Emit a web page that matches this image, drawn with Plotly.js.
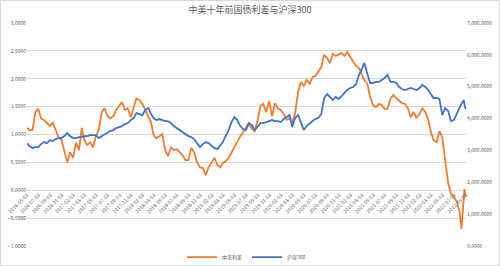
<!DOCTYPE html>
<html>
<head>
<meta charset="utf-8">
<script src="https://cdn.plot.ly/plotly-3.0.1.min.js"></script>
<style>
html,body{margin:0;padding:0;background:#fff;}
#chart{width:500px;height:266px;outline:1px solid #d9d9d9;outline-offset:-1px;}
</style>
</head>
<body>
<div id="chart"></div>
<script>
const dates = [
'2016-05-04','2016-05-16','2016-06-01','2016-06-16','2016-07-01','2016-07-16','2016-08-01','2016-08-16','2016-09-01','2016-09-16','2016-10-01','2016-10-16','2016-11-01','2016-11-16','2016-12-01','2016-12-16',
'2017-01-01','2017-01-16','2017-02-01','2017-02-16','2017-03-01','2017-03-16','2017-04-01','2017-04-16','2017-05-01','2017-05-16','2017-06-01','2017-06-16','2017-07-01','2017-07-16','2017-08-01','2017-08-16','2017-09-01','2017-09-16','2017-10-01','2017-10-16','2017-11-01','2017-11-16','2017-12-01','2017-12-16',
'2018-01-01','2018-01-16','2018-02-01','2018-02-16','2018-03-01','2018-03-16','2018-04-01','2018-04-16','2018-05-01','2018-05-16','2018-06-01','2018-06-16','2018-07-01','2018-07-16','2018-08-01','2018-08-16','2018-09-01','2018-09-16','2018-10-01','2018-10-16','2018-11-01','2018-11-16','2018-12-01','2018-12-16',
'2019-01-01','2019-01-16','2019-02-01','2019-02-16','2019-03-01','2019-03-16','2019-04-01','2019-04-16','2019-05-01','2019-05-16','2019-06-01','2019-06-16','2019-07-01','2019-07-16','2019-08-01','2019-08-16','2019-09-01','2019-09-16','2019-10-01','2019-10-16','2019-11-01','2019-11-16','2019-12-01','2019-12-16',
'2020-01-01','2020-01-16','2020-02-01','2020-02-16','2020-03-01','2020-03-16','2020-04-01','2020-04-16','2020-05-01','2020-05-16','2020-06-01','2020-06-16','2020-07-01','2020-07-16','2020-08-01','2020-08-16','2020-09-01','2020-09-16','2020-10-01','2020-10-16','2020-11-01','2020-11-16','2020-12-01','2020-12-16',
'2021-01-01','2021-01-16','2021-02-01','2021-02-16','2021-03-01','2021-03-16','2021-04-01','2021-04-16','2021-05-01','2021-05-16','2021-06-01','2021-06-16','2021-07-01','2021-07-16','2021-08-01','2021-08-16','2021-09-01','2021-09-16','2021-10-01','2021-10-16','2021-11-01','2021-11-16','2021-12-01','2021-12-16',
'2022-01-01','2022-01-16','2022-02-01','2022-02-16','2022-03-01','2022-03-16','2022-04-01','2022-04-16','2022-05-01','2022-05-16','2022-06-01','2022-06-16','2022-07-01','2022-07-16','2022-08-01','2022-08-10','2022-08-16','2022-08-22','2022-08-26','2022-09-01'
];

const spread = [
1.12,1.08,1.08,1.40,1.46,1.29,1.26,1.20,1.15,1.22,1.10,0.95,0.90,0.72,0.50,0.68,
0.58,0.85,0.72,1.12,0.90,0.81,0.86,0.77,0.97,1.08,1.40,1.47,1.33,1.29,1.33,1.44,1.51,1.58,1.44,1.47,1.31,1.47,1.65,1.62,
1.55,1.44,1.33,1.22,0.99,0.93,0.97,1.01,0.72,0.61,0.77,0.72,0.74,0.68,0.63,0.54,0.54,0.76,0.68,0.50,0.41,0.40,0.27,0.41,
0.49,0.58,0.45,0.41,0.49,0.52,0.58,0.68,0.76,0.88,0.97,1.04,1.13,1.20,1.10,1.06,1.26,1.51,1.55,1.40,1.60,1.33,1.56,1.47,
1.44,1.37,1.26,1.29,1.20,1.38,1.76,1.94,1.87,1.98,1.91,2.03,2.05,2.12,2.21,2.43,2.37,2.28,2.45,2.41,2.43,2.46,2.41,2.48,
2.39,2.30,2.23,2.19,2.10,1.98,1.91,1.67,1.53,1.49,1.55,1.53,1.46,1.46,1.64,1.71,1.65,1.60,1.56,1.55,1.47,1.31,1.40,1.29,
1.37,1.47,1.40,1.26,1.06,0.90,0.86,1.06,0.95,0.54,0.13,-0.07,-0.12,-0.20,-0.40,-0.70,-0.40,-0.05,0.02,-0.12
];

const csi300 = [
3230,3135,3073,3104,3104,3198,3261,3230,3324,3293,3356,3387,3387,3450,3544,3450,
3387,3387,3419,3419,3450,3450,3481,3481,3481,3387,3450,3513,3544,3607,3639,3702,3733,3764,3827,3859,3953,4016,4173,4142,
4111,4268,4331,4142,4016,3953,3985,3953,3922,3922,3859,3764,3702,3639,3576,3513,3450,3419,3356,3230,3104,3198,3261,3230,
3135,3073,3041,3167,3261,3450,3639,3890,4048,3953,3764,3670,3639,3859,3796,3639,3764,3859,3859,3890,3922,3953,3922,3922,
3890,3985,4048,4111,3733,4016,4111,3890,3639,3764,3859,3922,3985,4016,4142,4645,4771,4677,4582,4677,4614,4708,4802,4897,
4960,4991,5086,5369,5526,5746,5400,5117,5117,5149,5149,5212,5275,5369,5149,5149,5117,4991,4929,4897,4929,4960,4929,4897,
4960,5054,4991,4897,4771,4645,4645,4614,4111,4331,4236,3922,3953,4173,4362,4460,4519,4582,4456,4299
];

const tickDates = [
'2016-05-03','2016-07-03','2016-09-03','2016-11-03','2017-01-03','2017-03-03','2017-05-03','2017-07-03','2017-09-03','2017-11-03',
'2018-01-03','2018-03-03','2018-05-03','2018-07-03','2018-09-03','2018-11-03','2019-01-03','2019-03-03','2019-05-03','2019-07-03',
'2019-09-03','2019-11-03','2020-01-03','2020-03-03','2020-05-03','2020-07-03','2020-09-03','2020-11-03','2021-01-03','2021-03-03',
'2021-05-03','2021-07-03','2021-09-03','2021-11-03','2022-01-03','2022-03-03','2022-05-03','2022-07-03','2022-09-03'
];

const seriesNames = ['中美利差','沪深300'];
const chartTitle = '中美十年前国债利差与沪深300';

const FONT = '"Noto Sans CJK SC", "Liberation Sans", sans-serif';
const GRAY = '#595959';

const traces = [
  {x: dates, y: spread, name: seriesNames[0], type: 'scatter', mode: 'lines',
   line: {color: '#ED7D31', width: 1.8}, yaxis: 'y'},
  {x: dates, y: csi300, name: seriesNames[1], type: 'scatter', mode: 'lines',
   line: {color: '#4472C4', width: 1.8}, yaxis: 'y2'}
];

const layout = {
  width: 500, height: 266,
  margin: {l: 27, r: 34, t: 23, b: 20, autoexpand: false},
  paper_bgcolor: 'rgba(0,0,0,0)', plot_bgcolor: '#fff',
  font: {family: FONT, color: GRAY, size: 5},
  title: {text: chartTitle, font: {family: FONT, size: 9, color: GRAY},
          x: 0.5, xanchor: 'center', y: 0.962, yref: 'container', yanchor: 'middle'},
  showlegend: true,
  legend: {orientation: 'h', x: 0.5, xanchor: 'center', y: -0.05, yanchor: 'middle',
           font: {size: 5, color: GRAY}, bgcolor: 'rgba(0,0,0,0)', itemwidth: 30, tracegroupgap: 0},
  xaxis: {type: 'date', range: ['2016-05-03', '2022-09-03'],
          tickvals: tickDates, ticktext: tickDates, tickangle: -45,
          anchor: 'free', position: 0.25, showgrid: false, zeroline: false,
          showline: false, ticks: '', tickfont: {size: 5, color: GRAY}, automargin: false},
  yaxis: {range: [-1, 3], dtick: 0.5, tick0: 0, tickformat: '.4f', showgrid: true,
          gridcolor: '#d9d9d9', gridwidth: 1, zeroline: false, showline: false,
          ticks: '', tickfont: {size: 5, color: GRAY}, automargin: false},
  yaxis2: {range: [0, 7000], dtick: 1000, tick0: 0, tickformat: ',.4f', overlaying: 'y',
           side: 'right', showgrid: false, zeroline: false, showline: false,
           ticks: '', tickfont: {size: 5, color: GRAY}, automargin: false}
};

Plotly.newPlot('chart', traces, layout, {displayModeBar: false, staticPlot: true});
</script>
</body>
</html>
